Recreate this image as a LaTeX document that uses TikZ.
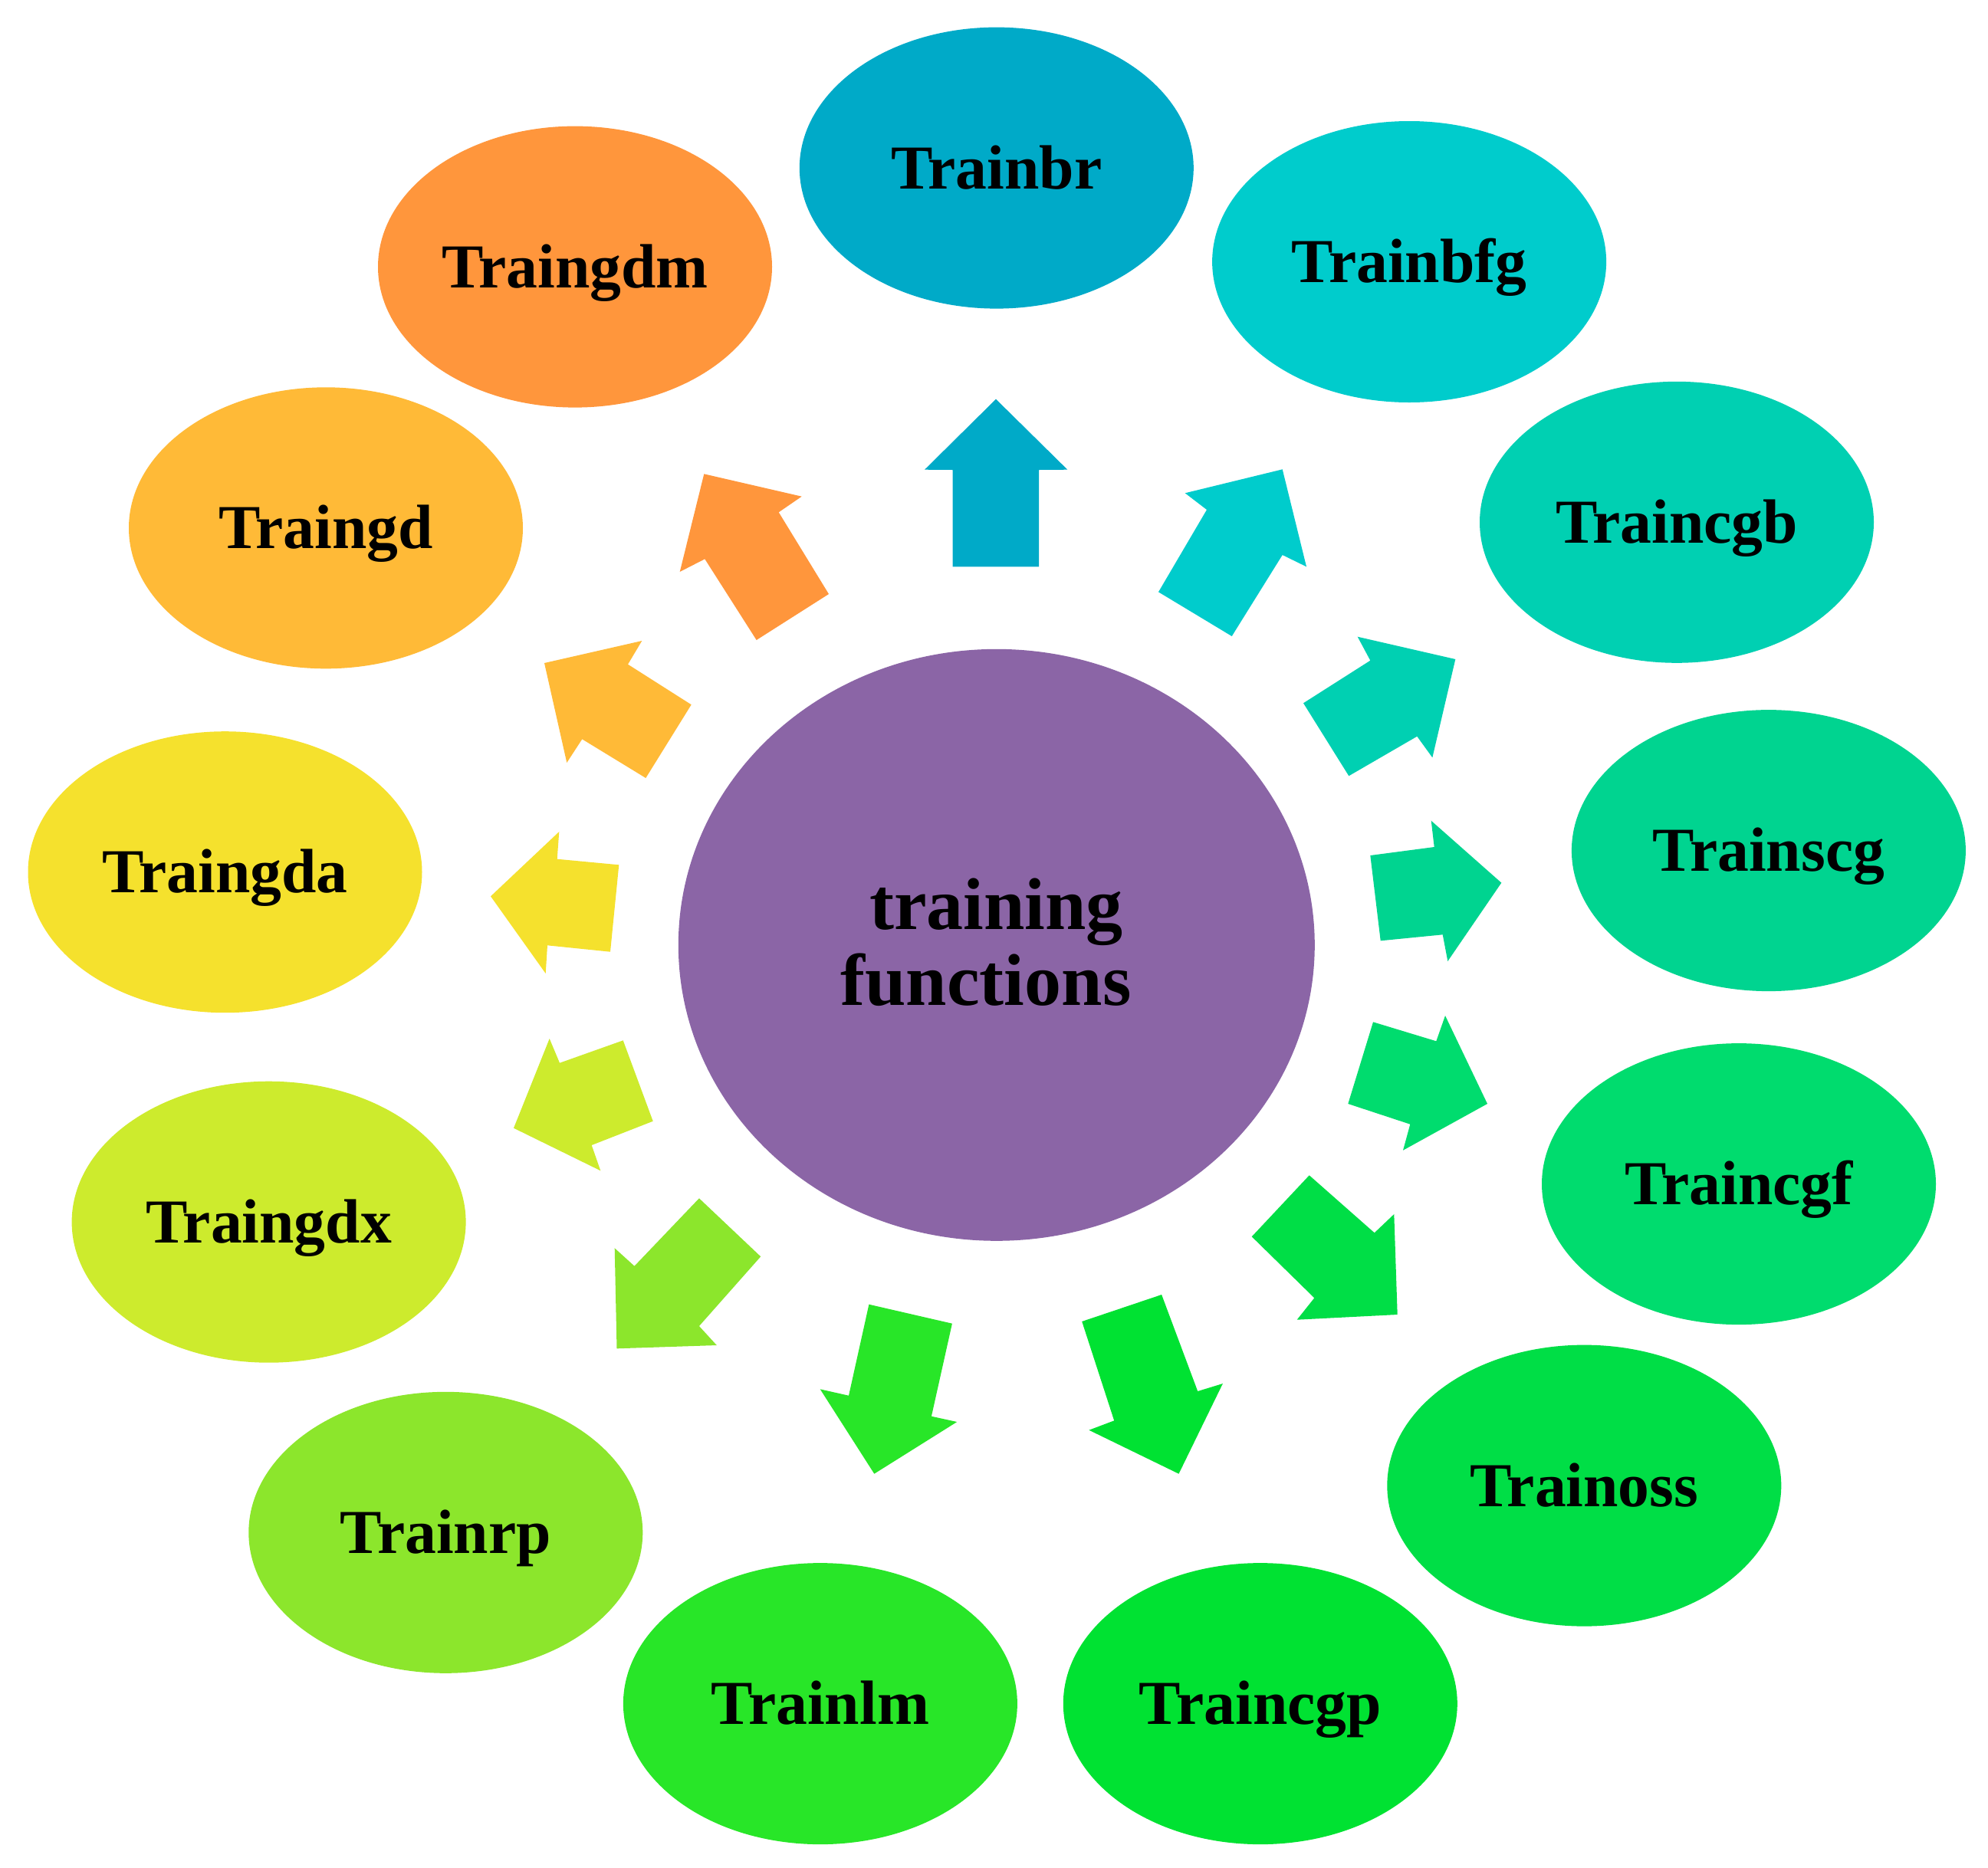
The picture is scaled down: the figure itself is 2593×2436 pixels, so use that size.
\documentclass[tikz,border=0pt]{standalone}
\usepackage{fontspec}
\setmainfont{Liberation Serif}
\usetikzlibrary{shapes.geometric}
\definecolor{cHub}{HTML}{8B65A6}
\definecolor{cBr}{HTML}{00AAC8}
\definecolor{cBfg}{HTML}{00CCCC}
\definecolor{cCgb}{HTML}{00D0B2}
\definecolor{cScg}{HTML}{00D490}
\definecolor{cCgf}{HTML}{00DC6E}
\definecolor{cOss}{HTML}{00DE46}
\definecolor{cCgp}{HTML}{00E232}
\definecolor{cLm}{HTML}{28E628}
\definecolor{cRp}{HTML}{8CE62C}
\definecolor{cGdx}{HTML}{CDEB2D}
\definecolor{cGda}{HTML}{F5E12D}
\definecolor{cGd}{HTML}{FFBA37}
\definecolor{cGdm}{HTML}{FF963C}
\begin{document}
\begin{tikzpicture}[x=1pt,y=-1pt,
  bubble/.style={ellipse, minimum width=514pt, minimum height=367pt, inner sep=0pt,
    text height=54pt, text depth=0pt, font=\fontsize{81.6pt}{98pt}\selectfont\bfseries},
  hub/.style={ellipse, fill=cHub, minimum width=830pt, minimum height=772pt, inner sep=0pt},
  hubtext/.style={anchor=base, inner sep=0pt, font=\fontsize{96pt}{100pt}\selectfont\bfseries}]
\useasboundingbox (0,0) rectangle (2593,2436);

% centre
\node[hub] (hub) at (1299.8,1232.8) {};
\node[hubtext] (hubA) at (1299.5,1212) {training};
\node[hubtext] (hubB) at (1286,1311.7) {functions};

% outer bubbles
\node[bubble, fill=cBr]  (br)  at (1299.8,219.1)  {Trainbr};
\node[bubble, fill=cBfg] (bfg) at (1838.1,341.5)  {Trainbfg};
\node[bubble, fill=cCgb] (cgb) at (2187,681.3)    {Traincgb};
\node[bubble, fill=cScg] (scg) at (2306.9,1109.6) {Trainscg};
\node[bubble, fill=cCgf] (cgf) at (2268,1544.6)   {Traincgf};
\node[bubble, fill=cOss] (oss) at (2066.3,1938.1) {Trainoss};
\node[bubble, fill=cCgp] (cgp) at (1643.8,2222.6) {Traincgp};
\node[bubble, fill=cLm]  (lm)  at (1069.9,2222.6) {Trainlm};
\node[bubble, fill=cRp]  (rp)  at (581.3,1999.3)  {Trainrp};
\node[bubble, fill=cGdx] (gdx) at (350.6,1594.2)  {Traingdx};
\node[bubble, fill=cGda] (gda) at (293.5,1137.7)  {Traingda};
\node[bubble, fill=cGd]  (gd)  at (425,688.8)     {Traingd};
\node[bubble, fill=cGdm] (gdm) at (750,348.1)     {Traingdm};

% block arrows
\fill[cBr]  (1242.7,739.3) -- (1242.7,613) -- (1206,612.7) -- (1299,520.7) -- (1392.3,612.7) -- (1355,613) -- (1355,739.3) -- cycle;
\fill[cBfg] (1511,772.3) -- (1574,665) -- (1545.7,643.3) -- (1672.7,612.3) -- (1704,739.3) -- (1672.7,724) -- (1606.7,830) -- cycle;
\fill[cCgb] (1700,917.3) -- (1787.3,861.7) -- (1770.7,830.7) -- (1898.3,860) -- (1868.3,988.3) -- (1848.3,960.7) -- (1759.3,1012.3) -- cycle;
\fill[cScg] (1787.3,1116) -- (1870.7,1105) -- (1866.7,1070.7) -- (1958.3,1151.7) -- (1888.3,1254) -- (1881.7,1219.3) -- (1800.7,1227.3) -- cycle;
\fill[cCgf] (1791,1333.3) -- (1873.3,1358.3) -- (1885,1325) -- (1940,1440) -- (1830,1500.7) -- (1839.3,1466.7) -- (1758.3,1440) -- cycle;
\fill[cOss] (1707.7,1533.3) -- (1792.7,1608.3) -- (1818.3,1584) -- (1822.7,1715) -- (1691.7,1721.7) -- (1714.3,1693.3) -- (1632.7,1613.3) -- cycle;
\fill[cCgp] (1515.1,1689) -- (1562.2,1815) -- (1594.9,1805) -- (1537.5,1922.7) -- (1420.4,1865.7) -- (1453.2,1853.3) -- (1411.2,1724) -- cycle;
\fill[cLm]  (1241.9,1726.7) -- (1214.9,1847.7) -- (1248.2,1855) -- (1140.3,1922.7) -- (1069.7,1812.3) -- (1107,1820.7) -- (1133.4,1701.7) -- cycle;
\fill[cRp]  (992.2,1639.3) -- (911.9,1730) -- (934.8,1755) -- (804.5,1759.3) -- (801.7,1628.3) -- (827.5,1651.7) -- (911.9,1563.3) -- cycle;
\fill[cGdx] (851.7,1462.7) -- (771.7,1494) -- (783.3,1527.3) -- (670,1471.7) -- (716.7,1355) -- (730,1386.7) -- (812.7,1357.3) -- cycle;
\fill[cGda] (796,1241.7) -- (714,1233.3) -- (711.7,1270) -- (640,1169.3) -- (729.3,1085) -- (726.7,1120.7) -- (807.3,1128.3) -- cycle;
\fill[cGd]  (842.3,1015) -- (759.3,964.3) -- (739.3,995) -- (710,865) -- (837.3,836) -- (819,866.7) -- (901.7,919.3) -- cycle;
\fill[cGdm] (986.7,835) -- (919.3,729.3) -- (886.7,746) -- (918.3,618.3) -- (1045.7,647.7) -- (1015.7,668.3) -- (1081,775) -- cycle;
\end{tikzpicture}
\end{document}
